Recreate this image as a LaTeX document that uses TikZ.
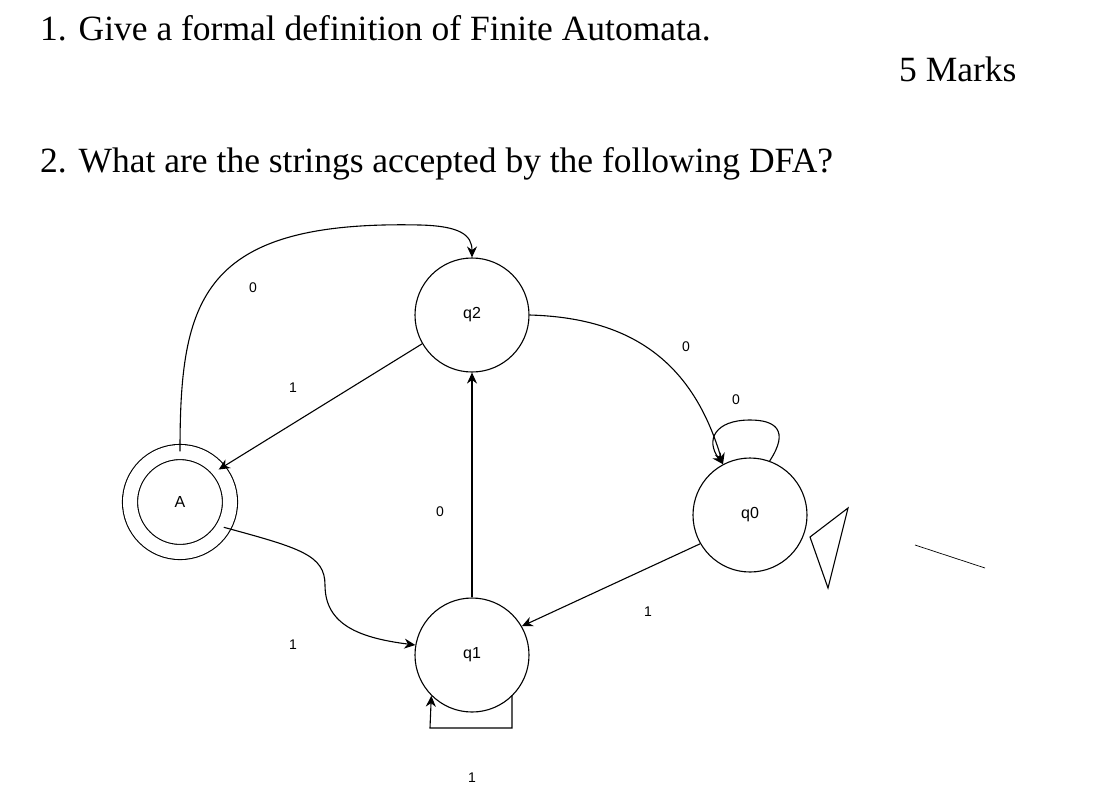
\documentclass[tikz,border=0pt]{standalone}
\usepackage{fontspec}
\setmainfont{Liberation Serif}
\newfontfamily\lab{Liberation Sans}
\usetikzlibrary{arrows.meta}
\begin{document}
\begin{tikzpicture}[x=1pt,y=-1pt,
  st/.style={circle,draw,line width=1.1pt,minimum size=114pt,inner sep=0pt,font=\lab\fontsize{16}{16}\selectfont},
  ed/.style={-{Stealth[length=11pt,width=10pt]},line width=1.1pt},
  lb/.style={font=\lab\fontsize{14}{14}\selectfont},
  tx/.style={anchor=base west,inner sep=0pt,font=\fontsize{35.5}{35.5}\selectfont}]
\useasboundingbox (0,0) rectangle (1094,804);
\node[tx] (t1) at (40,40) {1. Give a formal definition of Finite Automata.};
\node[tx] (t2) at (899,81) {5 Marks};
\node[tx] (t3) at (40,172) {2. What are the strings accepted by the following DFA?};
\node[st,double,double distance=14pt,minimum size=100pt] (A) at (180,502) {A};
\node[st] (q2) at (472,315) {q2};
\node[st] (q1) at (472,655) {q1};
\node[st] (q0) at (750,515) {q0};
\draw[ed] (A.north) .. controls (180,300) and (200,220) .. (420,225) .. controls (460,226) and (472,235) .. (q2.north);
\draw[ed] (q2.210) -- (A.40);
\draw[ed] (q1.north) -- (q2.south);
\draw[ed] (q2.east) .. controls (640,318) and (695,370) .. (q0.118);
\draw[ed] (q0.210) -- (q1.30);
\draw[ed] (A.-30) .. controls (300,548) and (325,555) .. (325,585) .. controls (325,625) and (360,638) .. (q1.170);
\draw[ed] (q0.70) .. controls (790,430) and (775,420) .. (750,420) .. controls (715,420) and (705,440) .. (q0.118);
\draw[ed] (512,695) -- (512,728) -- (430,728) -- (q1.225);
\node[lb] (l1) at (253,288) {0};
\node[lb] (l2) at (293,388) {1};
\node[lb] (l3) at (440,512) {0};
\node[lb] (l4) at (686,347) {0};
\node[lb] (l5) at (736,400) {0};
\node[lb] (l6) at (648,612) {1};
\node[lb] (l7) at (293,645) {1};
\node[lb] (l8) at (472,778) {1};
\draw[line width=1.1pt] (810,537) -- (848,508) -- (828,588) -- cycle;
\draw[line width=0.7pt] (915,545) -- (985,568);
\end{tikzpicture}
\end{document}
